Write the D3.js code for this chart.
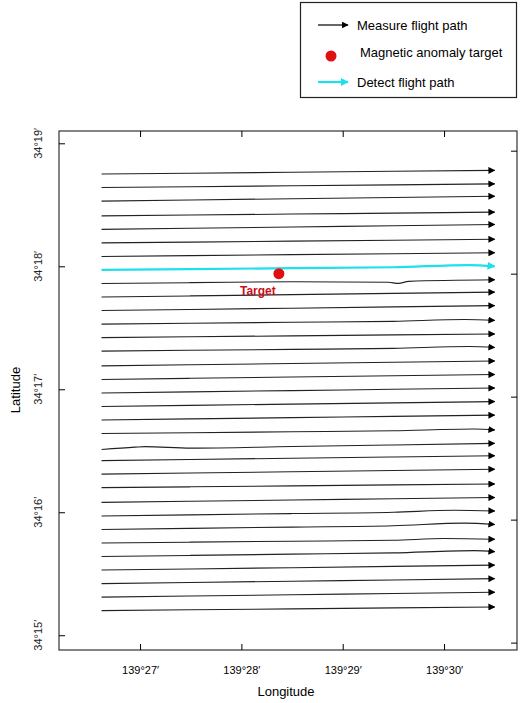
<!DOCTYPE html>
<html><head><meta charset="utf-8">
<script src="https://cdn.jsdelivr.net/npm/d3@7"></script>
<style>body{margin:0;background:#fff}text{font-family:"Liberation Sans",Arial,sans-serif}</style>
</head><body><svg id="c" width="520" height="703"></svg>
<script>
// latitude minutes (34°xx') at start and end of each flight line
const startLat = [18.75,18.64,18.53,18.41,18.30,18.19,18.08,17.97,17.86,17.75,17.64,17.53,17.42,17.31,17.19,17.08,16.97,16.86,16.75,16.64,16.51,16.42,16.31,16.20,16.08,15.97,15.86,15.75,15.64,15.53,15.42,15.31,15.20];
const endLat   = [18.78,18.67,18.57,18.44,18.34,18.22,18.11,18.00,17.89,17.79,17.68,17.56,17.45,17.34,17.23,17.12,17.01,16.90,16.79,16.67,16.56,16.46,16.35,16.23,16.12,16.01,15.90,15.78,15.68,15.57,15.46,15.35,15.23];
// local wiggles: [line index, lon minute, lat offset]
const wiggles = [[7,30.25,0.012],[8,29.45,-0.012],[8,29.55,-0.022],[8,29.65,-0.006],[11,30.2,0.01],[13,30.25,0.01],[19,30.3,0.008],[20,26.95,0.015],[20,27.05,0.018],[25,30.1,0.01],[26,30.2,0.015],[27,30.0,0.01],[28,30.3,0.01]];
const lonStart = 26.62, lonEnd = 30.5;
const detectIndex = 7;
const target = {lon:28.37, lat:17.94, label:"Target"};
const xTicks = [27,28,29,30];
const yTicks = [15,16,17,18,19];

const svg = d3.select("#c");
const L=59,R=517,T=131,B=650;
const x = d3.scaleLinear().domain([26.2,30.72]).range([L,R]);
const y = d3.scaleLinear().domain([14.88,19.1]).range([B,T]);
const defs=svg.append("defs");
function marker(id,col,s){defs.append("marker").attr("id",id).attr("viewBox","0 0 10 10").attr("refX",9).attr("refY",5)
 .attr("markerWidth",s).attr("markerHeight",s).attr("markerUnits","userSpaceOnUse").attr("orient","auto")
 .append("path").attr("d","M0,0L10,5L0,10Z").attr("fill",col);}
marker("ak","#000",7);marker("ac","#1ee0ea",8);

svg.append("rect").attr("x",L).attr("y",T).attr("width",R-L).attr("height",B-T).attr("fill","none").attr("stroke","#333").attr("stroke-width",1.2);
const g=svg.append("g");
g.append("g").attr("transform",`translate(0,${B})`).call(d3.axisBottom(x).tickValues(xTicks).tickSize(-6).tickFormat(d=>`139°${d}′`).tickPadding(16))
 .call(a=>{a.select(".domain").remove();a.selectAll("text").attr("font-size",11).attr("font-family","Liberation Sans, Arial")});
g.append("g").attr("transform",`translate(0,${T})`).call(d3.axisTop(x).tickValues(xTicks).tickSize(-6).tickFormat("")).call(a=>a.select(".domain").remove());
g.append("g").attr("transform",`translate(${L},0)`).call(d3.axisLeft(y).tickValues(yTicks).tickSize(-6).tickFormat("")).call(a=>a.select(".domain").remove());
g.append("g").attr("transform",`translate(${R},0)`).call(d3.axisRight(y).tickValues(yTicks.map(v=>v-0.06)).tickSize(-6).tickFormat("")).call(a=>a.select(".domain").remove());
yTicks.forEach(v=>svg.append("text").attr("transform",`translate(42,${y(v)}) rotate(-90)`).attr("text-anchor","middle").attr("font-size",11).attr("fill","#222").text(`34°${v}′`));

const line=d3.line().x(d=>x(d[0])).y(d=>y(d[1])).curve(d3.curveMonotoneX);
startLat.forEach((s,i)=>{
  const e=endLat[i];
  const base=lon=>s+(e-s)*(lon-lonStart)/(lonEnd-lonStart);
  const pts=[[lonStart,s]];
  [27.5,28.5,29.5].forEach(l=>{ if(!wiggles.some(w=>w[0]===i&&Math.abs(w[1]-l)<0.2)) pts.push([l,base(l)]); });
  wiggles.filter(w=>w[0]===i).forEach(w=>pts.push([w[1],base(w[1])+w[2]]));
  pts.push([lonEnd,e]);
  pts.sort((a,b)=>a[0]-b[0]);
  const det=i===detectIndex;
  svg.append("path").attr("d",line(pts)).attr("fill","none").attr("stroke",det?"#1ee0ea":"#222").attr("stroke-width",det?2.2:1.1)
   .attr("marker-end",`url(#${det?"ac":"ak"})`);
});
svg.append("circle").attr("cx",x(target.lon)).attr("cy",y(target.lat)).attr("r",5.5).attr("fill","#e01010");
svg.append("text").attr("x",x(target.lon)-21).attr("y",y(target.lat)+21).attr("text-anchor","middle").attr("font-size",12).attr("font-weight","bold").attr("fill","#c8101a").text(target.label);

svg.append("text").attr("transform","translate(20,390) rotate(-90)").attr("text-anchor","middle").attr("font-size",13).text("Latitude");
svg.append("text").attr("x",286).attr("y",696).attr("text-anchor","middle").attr("font-size",13).text("Longitude");

const lg=svg.append("g");
lg.append("rect").attr("x",300.5).attr("y",2.5).attr("width",216).attr("height",95).attr("fill","#fff").attr("stroke","#222").attr("stroke-width",1.2);
lg.append("line").attr("x1",318).attr("x2",348).attr("y1",25).attr("y2",25).attr("stroke","#000").attr("stroke-width",1.2).attr("marker-end","url(#ak)");
lg.append("circle").attr("cx",331).attr("cy",56).attr("r",5.5).attr("fill","#e01010");
lg.append("line").attr("x1",318).attr("x2",348).attr("y1",82).attr("y2",82).attr("stroke","#1ee0ea").attr("stroke-width",2.2).attr("marker-end","url(#ac)");
[["Measure flight path",30],["Magnetic anomaly target",57],["Detect flight path",87]].forEach(([t,yy],k)=>
 lg.append("text").attr("x",k===1?360:357).attr("y",yy).attr("font-size",13).text(t));
</script></body></html>
